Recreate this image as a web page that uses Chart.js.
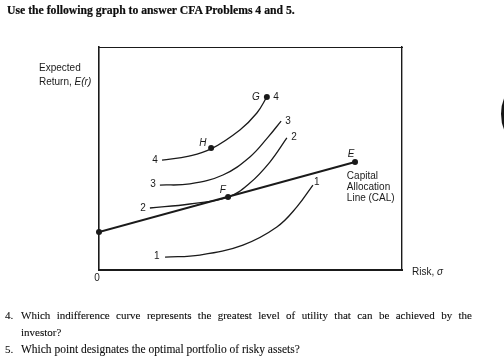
<!DOCTYPE html>
<html><head><meta charset="utf-8">
<script src="https://cdn.jsdelivr.net/npm/chart.js@4.4.1/dist/chart.umd.min.js"></script>
<style>
html,body{margin:0;padding:0;background:#fff;}
#wrap{position:relative;width:504px;height:360px;overflow:hidden;background:#fff;}
canvas{position:absolute;left:0;top:0;}
.t{position:absolute;font-family:"Liberation Serif","Times New Roman",serif;color:#0d0d0d;white-space:nowrap;line-height:1;-webkit-text-stroke:0.1px #0d0d0d;}
</style></head><body>
<div id="wrap">
<canvas id="c" width="504" height="360"></canvas>
<div class="t" id="title" style="left:7px;top:5px;font-weight:bold;font-size:12px;-webkit-text-stroke:0.2px #0d0d0d;">Use the following graph to answer CFA Problems 4 and 5.</div>
<div class="t" style="left:5px;top:310px;font-size:11px">4.</div>
<div class="t" style="left:21px;top:310px;font-size:11px;width:451px;text-align:justify;text-align-last:justify;white-space:normal">Which indifference curve represents the greatest level of utility that can be achieved by the</div>
<div class="t" style="left:21px;top:327px;font-size:11px">investor?</div>
<div class="t" style="left:5px;top:344px;font-size:11px">5.</div>
<div class="t" id="q5" style="left:21px;top:344px;font-size:11px">Which point designates the optimal portfolio of risky assets?</div>
<div style="position:absolute;left:501px;top:70px;width:88px;height:88px;border-radius:50%;background:#151515"></div>
</div>
<script>
// ---- data (risk σ on x, expected return E(r) on y, both on a 0-100 scale) ----
const calRisk   = [0, 84.5];
const calReturn = [17.0, 48.4];

const curve1Risk   = [21.8, 33.3, 47.5, 58.7, 65.3, 70.6];
const curve1Return = [5.8, 6.7, 11.2, 19.3, 28.3, 38.1];
const curve2Risk   = [16.8, 30.0, 42.6, 49.8, 56.4, 62.0];
const curve2Return = [27.8, 29.6, 32.7, 39.0, 48.4, 59.2];
const curve3Risk   = [20.1, 30.0, 40.9, 49.8, 55.8, 60.1];
const curve3Return = [38.1, 38.6, 42.6, 50.7, 59.6, 66.8];
const curve4Risk   = [20.8, 29.7, 37.0, 46.5, 52.1, 55.4];
const curve4Return = [49.3, 51.1, 54.3, 62.8, 70.4, 77.6];

const pointNames  = ['', 'F', 'E', 'H', 'G'];
const pointRisk   = [0, 42.6, 84.5, 37.0, 55.4];
const pointReturn = [17.0, 32.7, 48.4, 54.7, 77.6];

// curve number labels (at both ends of each indifference curve)
const curveLabelText   = ['4', '3', '2', '1', '3', '2', '1', '4'];
const curveLabelRisk   = [18.5, 17.8, 14.5, 19.1, 62.4, 64.4, 71.9, 58.4];
const curveLabelReturn = [49.3, 38.6, 27.8, 6.3, 66.8, 59.6, 39.5, 77.6];
// point name label anchors
const pointLabelRisk   = [null, 40.9, 83.2, 34.3, 51.8];
const pointLabelReturn = [null, 35.9, 52.0, 57.0, 77.6];

const calText = ['Capital', 'Allocation', 'Line (CAL)'];
const calTextRisk = 81.8;
const calTextReturn = [42.2, 37.2, 32.3];

const zip = (xs, ys) => xs.map((x, i) => ({x, y: ys[i]}));
const ink = '#1a1a1a';
const curveStyle = {showLine: true, pointRadius: 0, borderColor: ink, borderWidth: 1.3, tension: 0.4, fill: false};
const sans = '"Liberation Sans", Arial, sans-serif';

const labelPlugin = {
  id: 'labels',
  afterDatasetsDraw(chart) {
    const {ctx, scales: {x, y}} = chart;
    ctx.save();
    ctx.fillStyle = ink;
    ctx.textBaseline = 'middle';
    ctx.textAlign = 'center';
    ctx.font = '10px ' + sans;
    curveLabelText.forEach((t, i) => {
      ctx.fillText(t, x.getPixelForValue(curveLabelRisk[i]), y.getPixelForValue(curveLabelReturn[i]));
    });
    ctx.font = 'italic 10px ' + sans;
    pointNames.forEach((t, i) => {
      if (!t) return;
      ctx.fillText(t, x.getPixelForValue(pointLabelRisk[i]), y.getPixelForValue(pointLabelReturn[i]));
    });
    ctx.textAlign = 'left';
    ctx.font = '10px ' + sans;
    calText.forEach((t, i) => {
      ctx.fillText(t, x.getPixelForValue(calTextRisk), y.getPixelForValue(calTextReturn[i]));
    });
    // axis titles
    const ca = chart.chartArea;
    ctx.fillText('Expected', 39, 68);
    ctx.fillText('Return, ', 39, 82);
    const w = ctx.measureText('Return, ').width;
    ctx.font = 'italic 10px ' + sans;
    ctx.fillText('E(r)', 39 + w, 82);
    ctx.font = '10px ' + sans;
    ctx.fillText('Risk, ', ca.right + 10, ca.bottom + 2);
    const w2 = ctx.measureText('Risk, ').width;
    ctx.font = 'italic 10px ' + sans;
    ctx.fillText('σ', ca.right + 10 + w2, ca.bottom + 2);
    ctx.font = '10px ' + sans;
    ctx.textAlign = 'center';
    ctx.fillText('0', ca.left - 2, ca.bottom + 8);
    ctx.restore();
  }
};

const zeroH = s => { s.height = 0; };
const zeroW = s => { s.width = 0; };
const axisBase = {type: 'linear', min: 0, max: 100, ticks: {display: false}, grid: {display: false, drawTicks: false}};

new Chart(document.getElementById('c'), {
  type: 'scatter',
  data: {
    datasets: [
      {...curveStyle, data: zip(curve1Risk, curve1Return)},
      {...curveStyle, data: zip(curve2Risk, curve2Return)},
      {...curveStyle, data: zip(curve3Risk, curve3Return)},
      {...curveStyle, data: zip(curve4Risk, curve4Return)},
      {showLine: true, pointRadius: 0, borderColor: ink, borderWidth: 2, tension: 0, data: zip(calRisk, calReturn)},
      {showLine: false, pointRadius: 3, pointBackgroundColor: ink, pointBorderColor: ink, pointBorderWidth: 0, clip: false, data: zip(pointRisk, pointReturn)}
    ]
  },
  options: {
    responsive: false,
    animation: false,
    devicePixelRatio: 1,
    layout: {padding: {left: 99, right: 102, top: 47, bottom: 90}},
    plugins: {legend: {display: false}, tooltip: {enabled: false}},
    scales: {
      x: {...axisBase, position: 'bottom', border: {display: true, color: ink, width: 2}, afterFit: zeroH},
      y: {...axisBase, position: 'left', border: {display: true, color: ink, width: 1.6}, afterFit: zeroW},
      x2: {...axisBase, position: 'top', border: {display: true, color: ink, width: 1}, afterFit: zeroH},
      y2: {...axisBase, position: 'right', border: {display: true, color: ink, width: 1.4}, afterFit: zeroW}
    }
  },
  plugins: [labelPlugin]
});

// fit the single-line texts to the widths they have in the reference
function fitWidth(id, target) {
  const el = document.getElementById(id);
  const w = el.getBoundingClientRect().width;
  const fs = parseFloat(el.style.fontSize);
  el.style.fontSize = (fs * target / w) + 'px';
}
fitWidth('title', 288);
fitWidth('q5', 279);
</script>
</body></html>
